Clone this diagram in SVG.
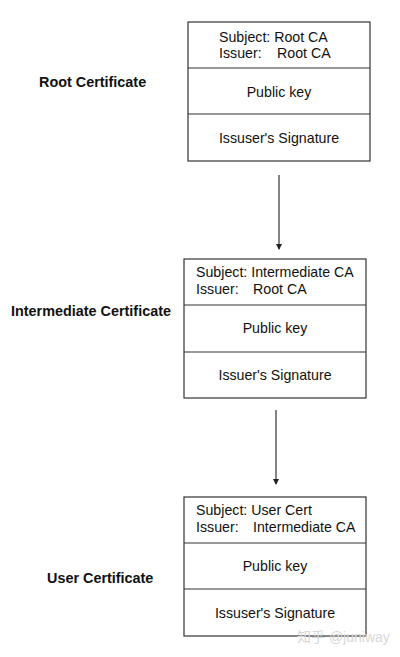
<svg xmlns="http://www.w3.org/2000/svg" width="400" height="657" viewBox="0 0 400 657">
<style>
.box{fill:#fff;stroke:#333;stroke-width:1.2}
.div{stroke:#333;stroke-width:1.2}
.t{font-family:"Liberation Sans",Arial,sans-serif;font-size:14.2px;fill:#111}
.c{text-anchor:middle}
.lbl{font-family:"Liberation Sans",Arial,sans-serif;font-size:14.4px;font-weight:bold;fill:#111}
.conn{stroke:#333;stroke-width:1.2;fill:none}
.wm{font-family:"Liberation Sans","Noto Sans CJK SC",sans-serif;font-size:14px;fill:#d8d8d8}
</style>
<defs>
<marker id="ah" markerWidth="6" markerHeight="6" refX="5" refY="3" orient="auto" markerUnits="userSpaceOnUse">
<path d="M0,0 L6,3 L0,6 z" fill="#222"/>
</marker>
</defs>
<rect width="400" height="657" fill="#fff"/>
<g id="root-cert">
<text class="lbl" x="39" y="87">Root Certificate</text>
<rect class="box" x="188" y="22" width="182" height="139"/>
<line class="div" x1="188" y1="68" x2="370" y2="68"/>
<line class="div" x1="188" y1="114" x2="370" y2="114"/>
<text class="t" x="219" y="42">Subject: Root CA</text>
<text class="t" y="58"><tspan x="219">Issuer:</tspan><tspan x="277">Root CA</tspan></text>
<text class="t c" x="279" y="97">Public key</text>
<text class="t c" x="279" y="143">Issuser's Signature</text>
</g>
<g id="intermediate-cert">
<text class="lbl" x="11" y="316">Intermediate Certificate</text>
<rect class="box" x="184" y="259" width="182" height="139"/>
<line class="div" x1="184" y1="305" x2="366" y2="305"/>
<line class="div" x1="184" y1="352" x2="366" y2="352"/>
<text class="t" x="196" y="277">Subject: Intermediate CA</text>
<text class="t" y="294"><tspan x="196">Issuer:</tspan><tspan x="253">Root CA</tspan></text>
<text class="t c" x="275" y="333">Public key</text>
<text class="t c" x="275" y="380">Issuer's Signature</text>
</g>
<g id="user-cert">
<text class="lbl" x="47" y="583">User Certificate</text>
<rect class="box" x="184" y="497" width="182" height="139"/>
<line class="div" x1="184" y1="543" x2="366" y2="543"/>
<line class="div" x1="184" y1="589" x2="366" y2="589"/>
<text class="t" x="196" y="515">Subject: User Cert</text>
<text class="t" y="532"><tspan x="196">Issuer:</tspan><tspan x="253">Intermediate CA</tspan></text>
<text class="t c" x="275" y="571">Public key</text>
<text class="t c" x="275" y="618">Issuser's Signature</text>
</g>
<g id="connectors">
<line class="conn" x1="279" y1="175" x2="279" y2="249" marker-end="url(#ah)"/>
<line class="conn" x1="276" y1="410" x2="276" y2="484" marker-end="url(#ah)"/>
</g>
<text class="wm" x="297" y="642">知乎 @juniway</text>
</svg>
